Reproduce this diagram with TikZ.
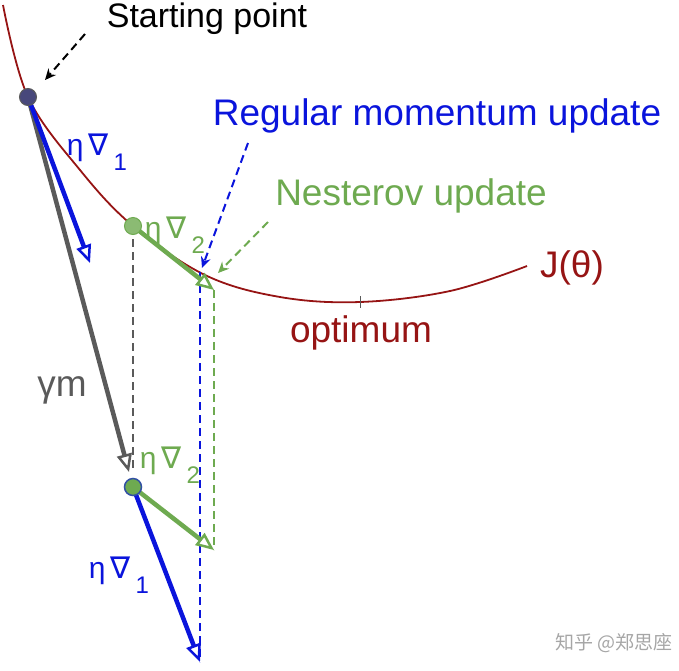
\documentclass[tikz,border=0pt]{standalone}
\usepackage{fontspec}
\setmainfont{Liberation Sans}
\newfontfamily\djv{DejaVu Sans}
\usetikzlibrary{arrows.meta}
\definecolor{dred}{RGB}{150,20,20}
\definecolor{mblue}{RGB}{10,20,220}
\definecolor{mgreen}{RGB}{110,170,80}
\definecolor{mgray}{RGB}{90,90,90}
\newcommand{\eg}[1]{η\,{\djv ∇}\,\raisebox{-0.5em}{\fontsize{24}{26}\selectfont #1}}
\begin{document}
\begin{tikzpicture}[x=1pt,y=-1pt,
  lbl/.style={font=\fontsize{37}{40}\selectfont, inner sep=0},
  sm/.style={font=\fontsize{30}{32}\selectfont, inner sep=0},
  vec/.style={line width=4.5pt,-{Triangle[open,length=18pt,width=15pt,line width=2.5pt]}},
  dsh/.style={line width=2pt,dash pattern=on 8pt off 5pt},
  dsharrow/.style={dsh,-{Stealth[length=11pt,width=10pt]}},
  pt/.style={circle,minimum size=17pt,inner sep=0,line width=1pt}]
\useasboundingbox (0,0) rectangle (679,670);
\draw[dred,line width=1.8pt] plot[smooth,tension=0.6] coordinates{(3,5) (28,97) (80,170) (133,226) (205,275) (280,297) (360,302) (450,291) (527,266)};
\coordinate (S) at (28,97);
\coordinate (G1) at (133,226);
\coordinate (G2) at (133,487);
\coordinate (B1) at (90,263);
\coordinate (N1) at (214,290);
\coordinate (M) at (129,472);
\coordinate (N2) at (214,550);
\coordinate (B2) at (200,662);
\draw[dsh,mgray] (G1) -- (133,470);
\draw[dsh,mblue] (200,272) -- (B2);
\draw[dsh,mgreen] (N1) -- (N2);
\draw[vec,mgray] (S) -- (M);
\draw[vec,mblue] (S) -- (B1);
\draw[vec,mgreen] (G1) -- (N1);
\draw[vec,mgreen] (G2) -- (N2);
\draw[vec,mblue] (G2) -- (B2);
\node[pt,draw=mgray,fill=mgray!80!blue] (s) at (S) {};
\node[pt,draw=mgreen,fill=mgreen!80] (g1) at (G1) {};
\node[pt,draw=mblue!60!mgreen,fill=mgreen,line width=1.5pt] (g2) at (G2) {};
\node[lbl,font=\fontsize{34}{36}\selectfont] (st) at (207,19) {Starting point};
\coordinate (sa) at (85,34);
\draw[dsharrow,black] (sa) -- (45,80);
\node[lbl,mblue] (reg) at (437,116) {Regular momentum update};
\coordinate (ra) at (248,143);
\draw[dsharrow,mblue] (ra) -- (202,268);
\node[lbl,mgreen] (nes) at (411,196) {Nesterov update};
\coordinate (na) at (268,222);
\draw[dsharrow,mgreen] (na) -- (218,273);
\node[lbl,dred] (j) at (572,268) {J(θ)};
\node[lbl,dred] (opt) at (361,333) {optimum};
\draw[mgray,line width=1pt] (360,296) -- (360,308);
\node[sm,mblue] (e1) at (97,152) {\eg{1}};
\node[sm,mgreen] (e2) at (175,235) {\eg{2}};
\node[lbl,mgray] (gm) at (62,390) {γm};
\node[sm,mgreen] (e3) at (170,465) {\eg{2}};
\node[sm,mblue] (e4) at (119,575) {\eg{1}};
\node[font=\fontsize{19}{22}\selectfont,gray!70] (wm) at (614,643) {\fontspec{Noto Sans CJK SC}知乎 @郑思座};
\end{tikzpicture}
\end{document}
